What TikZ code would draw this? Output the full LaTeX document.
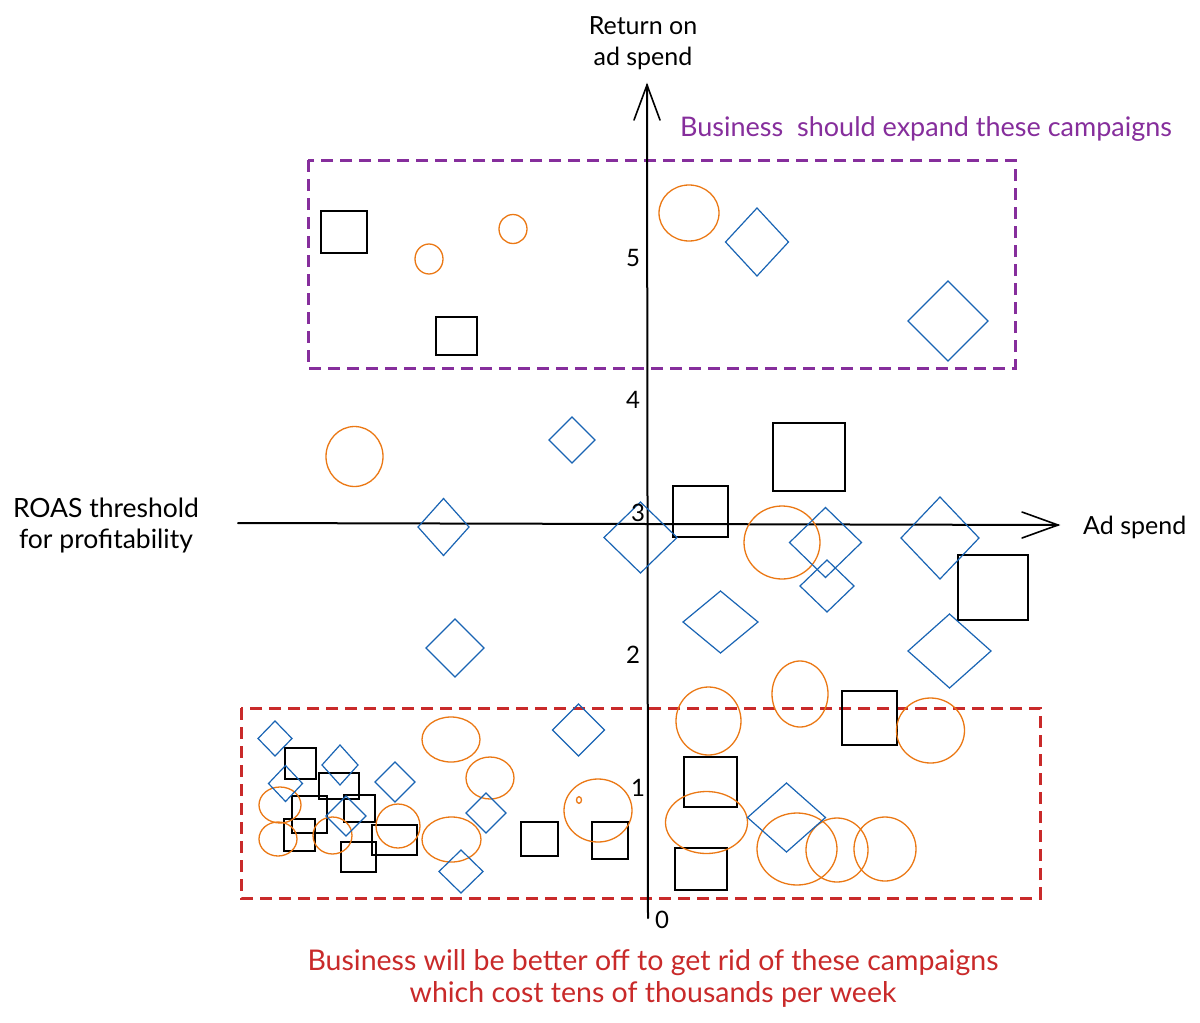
\documentclass[tikz,border=0pt]{standalone}
\usepackage{fontspec}
\setmainfont{Lato}
\definecolor{orng}{RGB}{235,120,20}
\definecolor{blu}{RGB}{25,100,180}
\definecolor{purp}{RGB}{134,46,156}
\definecolor{redd}{RGB}{201,42,42}
\tikzset{
  sq/.style={draw=black, line width=1.3pt},
  ov/.style={draw=orng, line width=1.3pt},
  dm/.style={draw=blu, line width=1.2pt, line join=miter},
  zone/.style={line width=3pt, dash pattern=on 12pt off 7pt},
  axisline/.style={line width=2pt, line cap=round},
  barb/.style={line width=1.6pt, line cap=round},
  lbl/.style={font=\fontsize{25}{31}\selectfont, align=center, inner sep=0pt},
  num/.style={font=\fontsize{24}{28}\selectfont, inner sep=0pt},
}
\newcommand\sqr[4]{\draw[sq] (#1,#2) rectangle (#3,#4);}
\newcommand\ovl[4]{\draw[ov] (#1,#2) ellipse [x radius=#3, y radius=#4];}
\newcommand\dmd[4]{\draw[dm] ({#1-#3},#2) -- (#1,{#2-#4}) -- ({#1+#3},#2) -- (#1,{#2+#4}) -- cycle;}
\begin{document}
\begin{tikzpicture}[x=1pt,y=-1pt]
\fill[white] (0,0) rectangle (1200,1023);
\useasboundingbox (0,0) rectangle (1200,1023);

% zones
\draw[zone, purp] (308,160) rectangle (1015,368);
\draw[zone, redd] (241,708) rectangle (1040,898);

% axes
\coordinate (yb) at (648,918);
\coordinate (yt) at (647,85);
\coordinate (yl1) at (634,120);
\coordinate (yr1) at (660,120);
\coordinate (xa) at (238,523);
\coordinate (xt) at (1058,525);
\coordinate (xu) at (1022,512);
\coordinate (xd) at (1022,538);
\draw[axisline] (yb) -- (yt);
\draw[barb] (yl1) -- (yt) -- (yr1);
\draw[axisline] (xa) -- (xt);
\draw[barb] (xu) -- (xt) -- (xd);

% squares
\sqr{321}{211}{367}{253}
\sqr{436}{317}{477}{355}
\sqr{673}{486}{728}{537}
\sqr{773}{423}{845}{491}
\sqr{958}{555}{1028}{620}
\sqr{842}{691}{897}{745}
\sqr{684}{757}{737}{807}
\sqr{675}{848}{727}{890}
\sqr{285}{748}{316}{779}
\sqr{319}{773}{359}{799}
\sqr{292}{796}{327}{833}
\sqr{344}{795}{375}{822}
\sqr{284}{819}{315}{851}
\sqr{341}{842}{376}{872}
\sqr{372}{825}{417}{855}
\sqr{521}{822}{558}{856}
\sqr{592}{822}{628}{859}

% ellipses
\ovl{429}{259}{14}{15}
\ovl{513}{229}{14}{14.5}
\ovl{689}{213}{30}{28}
\ovl{354.5}{456.5}{28.5}{30}
\ovl{782}{542.5}{38}{36.5}
\ovl{800}{694}{28}{33}
\ovl{708.5}{721}{32.5}{34}
\ovl{930.5}{730.5}{34}{32.5}
\ovl{706.5}{822.5}{41}{31}
\ovl{797}{849}{40}{36}
\ovl{837}{850}{31}{32}
\ovl{885}{849}{31}{32}
\ovl{451}{739.5}{29}{22.5}
\ovl{490}{778}{24}{21}
\ovl{280}{805}{21}{18}
\ovl{398}{826}{22}{22}
\ovl{598}{810.5}{34}{31.5}
\ovl{579}{800}{2.5}{3.3}
\ovl{278}{839}{19}{17}
\ovl{332.5}{835.5}{19.5}{18.5}
\ovl{451.5}{839.5}{29.5}{22.5}

% diamonds
\dmd{757}{242}{31.5}{34}
\dmd{948}{321}{40}{40}
\dmd{572}{440}{23}{23}
\dmd{443.5}{527}{25.5}{28.5}
\dmd{640.5}{537.5}{36.5}{35.5}
\dmd{825.5}{542.5}{36}{35}
\dmd{827}{586}{27}{26}
\dmd{940}{538}{39}{41}
\dmd{455}{648}{29}{29}
\dmd{720.5}{622}{37.5}{31}
\dmd{949.5}{651}{41.5}{37}
\dmd{786.5}{817.5}{39}{34.5}
\dmd{578.5}{730}{26}{26}
\dmd{275}{738.5}{17}{17.5}
\dmd{340}{765}{18}{20}
\dmd{285.5}{783.5}{17}{18}
\dmd{395}{782}{20}{20}
\dmd{346}{816}{20}{20}
\dmd{486}{813}{20}{20}
\dmd{461}{871.5}{22}{21.5}

% tick labels
\node[num] (t5) at (633,258) {5};
\node[num] (t4) at (633,400) {4};
\node[num] (t3) at (638,513) {3};
\node[num] (t2) at (633,655) {2};
\node[num] (t1) at (638,788) {1};
\node[num] (t0) at (662,920) {0};

% labels
\node[lbl] (ylab) at (643,43) {Return on\\ad spend};
\node[lbl, anchor=west] (xlab) at (1083,527) {Ad spend};
\node[lbl, font=\fontsize{26.5}{31}\selectfont] (thr) at (106,526) {ROAS threshold\\for profitability};
\node[lbl, font=\fontsize{27}{31}\selectfont, text=purp, anchor=west] (good) at (680,129) {Business\ \ should expand these campaigns};
\node[lbl, font=\fontsize{28.5}{32}\selectfont, text=redd] (bad) at (653,978) {Business will be better off to get rid of these campaigns\\which cost tens of thousands per week};
\end{tikzpicture}
\end{document}
